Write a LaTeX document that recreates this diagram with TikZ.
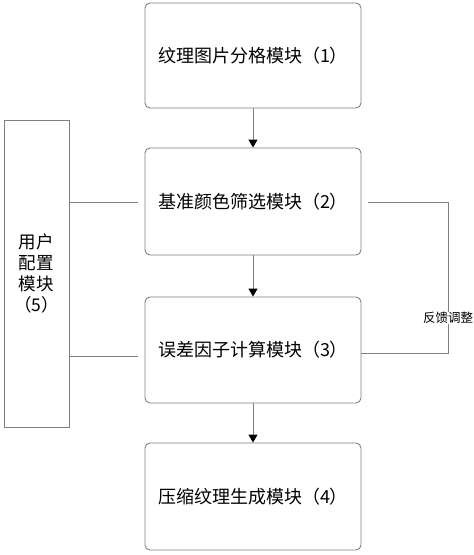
\documentclass[tikz,border=0pt]{standalone}
\usepackage{fontspec}
\setmainfont{Noto Sans CJK SC}
\usetikzlibrary{arrows.meta}
\definecolor{linegray}{RGB}{128,128,128}
\tikzset{
  modbox/.style={draw=linegray, line width=0.9pt, rounded corners=5pt, minimum width=216pt, inner sep=0pt, font=\fontsize{18}{21}\selectfont},
  userbox/.style={draw=linegray, line width=0.9pt, minimum width=65pt, minimum height=307pt, inner sep=0pt, align=center, font=\fontsize{17.5}{21}\selectfont},
  conn/.style={draw=linegray, line width=0.9pt},
  flow/.style={conn, -{Triangle[width=9pt,length=8pt,color=black]}},
  smalllabel/.style={font=\fontsize{12.5}{14}\selectfont, fill=white, inner sep=0.5pt}
}
\begin{document}
\begin{tikzpicture}[x=1pt,y=-1pt]
\useasboundingbox (0,0) rectangle (474,555);
\node[modbox, minimum height=105pt] (b1) at (253,55.5) {纹理图片分格模块（1）};
\node[modbox, minimum height=107pt] (b2) at (253,201.5) {基准颜色筛选模块（2）};
\node[modbox, minimum height=106pt] (b3) at (253,350) {误差因子计算模块（3）};
\node[modbox, minimum height=107pt] (b4) at (253,496.5) {压缩纹理生成模块（4）};
\node[userbox] (b5) at (36.5,273.5) {用户\\配置\\模块\\（5）};
\draw[flow] (b1) -- (b2);
\draw[flow] (b2) -- (b3);
\draw[flow] (b3) -- (b4);
\coordinate (l2) at (138,202);
\coordinate (l3) at (138,356);
\draw[conn] (b5.east |- l2) -- (l2);
\draw[conn] (b5.east |- l3) -- (l3);
\coordinate (f0) at (368,202);
\coordinate (f1) at (448,202);
\coordinate (f2) at (448,353);
\draw[conn] (f0) -- (f1) -- (f2) -- (b3.east |- f2);
\node[smalllabel] (fb) at (448,318) {反馈调整};
\end{tikzpicture}
\end{document}
